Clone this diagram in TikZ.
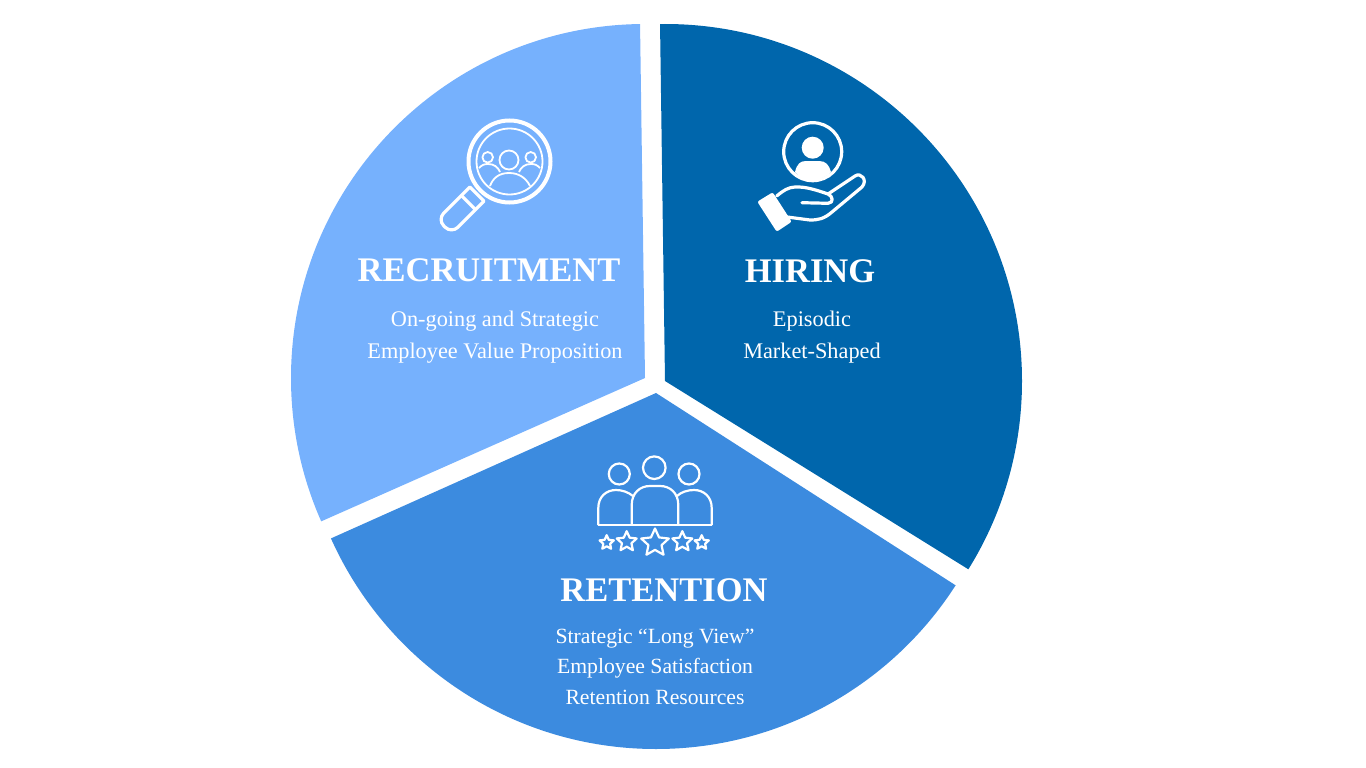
\documentclass[tikz,border=0pt]{standalone}
\usepackage{fontspec}
\setmainfont{Liberation Serif}
\usepackage{xcolor}
\usetikzlibrary{shapes.geometric,positioning}

\definecolor{recruitblue}{HTML}{76B1FD}
\definecolor{hireblue}{HTML}{0066AC}
\definecolor{retainblue}{HTML}{3C8BDF}

\begin{document}
\begin{tikzpicture}[
			x=1pt, y=-1pt,
			title/.style={text=white, inner sep=0pt, font=\fontsize{34.5}{38}\selectfont\bfseries},
			body/.style={text=white, inner sep=0pt, align=center, font=\fontsize{22.3}{32}\selectfont},
			thinline/.style={draw=white, line width=2.2pt, line join=round},
			iconline/.style={draw=white, line width=3.2pt, line join=round},
			starmark/.style={star, star points=5, star point ratio=2.1, thinline, inner sep=0pt}
		]
		\useasboundingbox (0,0) rectangle (1366,768);

		% Pie slices
		\begin{scope}
			\clip (645,378) circle[radius=354];
			\fill[recruitblue] (645,378) -- (639.7,0) -- (200,0) -- (200,575) -- cycle;
		\end{scope}
		\begin{scope}
			\clip (665,381) circle[radius=357];
			\fill[hireblue] (665,381) -- (659.7,0) -- (1100,0) -- (1100,651) -- cycle;
		\end{scope}
		\begin{scope}
			\clip (656,393) circle[radius=356];
			\fill[retainblue] (656,393) -- (200,597) -- (200,800) -- (1100,800) -- (1100,678) -- cycle;
		\end{scope}

		% Recruitment icon
		\draw[white, line width=4pt] (509.5,161.5) circle[radius=41];
		\draw[thinline, line width=1.8pt] (509.5,161.5) circle[radius=33];
		\draw[thinline, line width=1.8pt] (509,160) circle[radius=9.5];
		\draw[thinline, line width=1.8pt] (487.7,157.3) circle[radius=5.3];
		\draw[thinline, line width=1.8pt] (530.7,157.3) circle[radius=5.3];
		\draw[thinline, line width=1.8pt] (490,186) .. controls (493,178) and (499,173) .. (509,173) .. controls (519,173) and (526,178) .. (530,186);
		\draw[thinline, line width=1.8pt] (479,168) .. controls (482,165) and (484,164) .. (488,164) .. controls (494,164) and (498,167) .. (500,172);
		\draw[thinline, line width=1.8pt] (540,168) .. controls (537,165) and (535,164) .. (531,164) .. controls (525,164) and (521,167) .. (519,172);
		\begin{scope}[shift={(509.5,161.5)}, rotate=-45]
			\draw[iconline] (-10,46) [rounded corners=9pt] -- (-10,92) -- (10,92) [sharp corners] -- (10,46) -- cycle;
			\draw[iconline] (-10,58) -- (10,58);
		\end{scope}

		% Hiring icon
		\draw[iconline] (812.7,151.7) circle[radius=29];
		\fill[white] (812.7,147.7) circle[radius=11];
		\fill[white] (795,172) .. controls (797,164) and (800,161) .. (806,161) -- (819,161) .. controls (826,161) and (829,165) .. (831,172) .. controls (825,178) and (818,180) .. (813,180) .. controls (806,180) and (800,178) .. (795,172) -- cycle;
		\fill[white, rounded corners=2pt] (757.3,201.7) -- (772.7,192.3) -- (791.7,221.7) -- (776.7,231.7) -- cycle;
		\draw[iconline, line cap=round] (776.7,196) .. controls (784,190) and (788,187.5) .. (795,187) .. controls (806,186.5) and (816,190) .. (828,194) .. controls (833,196) and (834,203) .. (828,203.3) -- (802,202.7);
		\draw[iconline, line cap=round] (828,194) -- (855,176) .. controls (861,172) and (868,180) .. (862,187) -- (832,212) .. controls (824,219) and (818,220) .. (810,220) -- (787,217);

		% Retention icon
		\draw[thinline] (654.3,467.7) circle[radius=11.3];
		\draw[thinline] (619.3,474) circle[radius=10.5];
		\draw[thinline] (689,474) circle[radius=10.5];
		\draw[thinline] (598.3,525) -- (711.7,525);
		\draw[thinline] (598.3,525) -- (598.3,508) .. controls (598.3,497) and (606,490) .. (616,490) .. controls (622,490) and (628,492) .. (633,496);
		\draw[thinline] (631.7,525) -- (631.7,505) .. controls (631.7,493) and (640,486) .. (650,486) -- (660,486) .. controls (670,486) and (678.3,493) .. (678.3,505) -- (678.3,525);
		\draw[thinline] (711.7,525) -- (711.7,508) .. controls (711.7,497) and (704,490) .. (694,490) .. controls (688,490) and (681,492) .. (677,496);
		\foreach \i/\x/\y/\r in {a/606.7/542.7/15, b/626.7/541.7/21, c/655/543/29, d/682.3/541.7/21, e/701.7/542.7/15}
			\node[starmark, minimum size=\r pt] (star\i) at (\x,\y) {};

		% Labels
		\node[title] (recruit) at (489,270) {RECRUITMENT};
		\node[body, below=29pt of recruit, xshift=6pt] (recruitbody) {On-going and Strategic \\ Employee Value Proposition};
		\node[title] (hire) at (810,271) {HIRING};
		\node[body, below=28pt of hire, xshift=2pt] (hirebody) {Episodic \\ Market-Shaped};
		\node[title] (retain) at (664,590) {RETENTION};
		\node[body, below=27pt of retain, xshift=-9pt, font=\fontsize{21.7}{30.5}\selectfont] (retainbody) {Strategic “Long View” \\ Employee Satisfaction \\ Retention Resources};
	\end{tikzpicture}
\end{document}
